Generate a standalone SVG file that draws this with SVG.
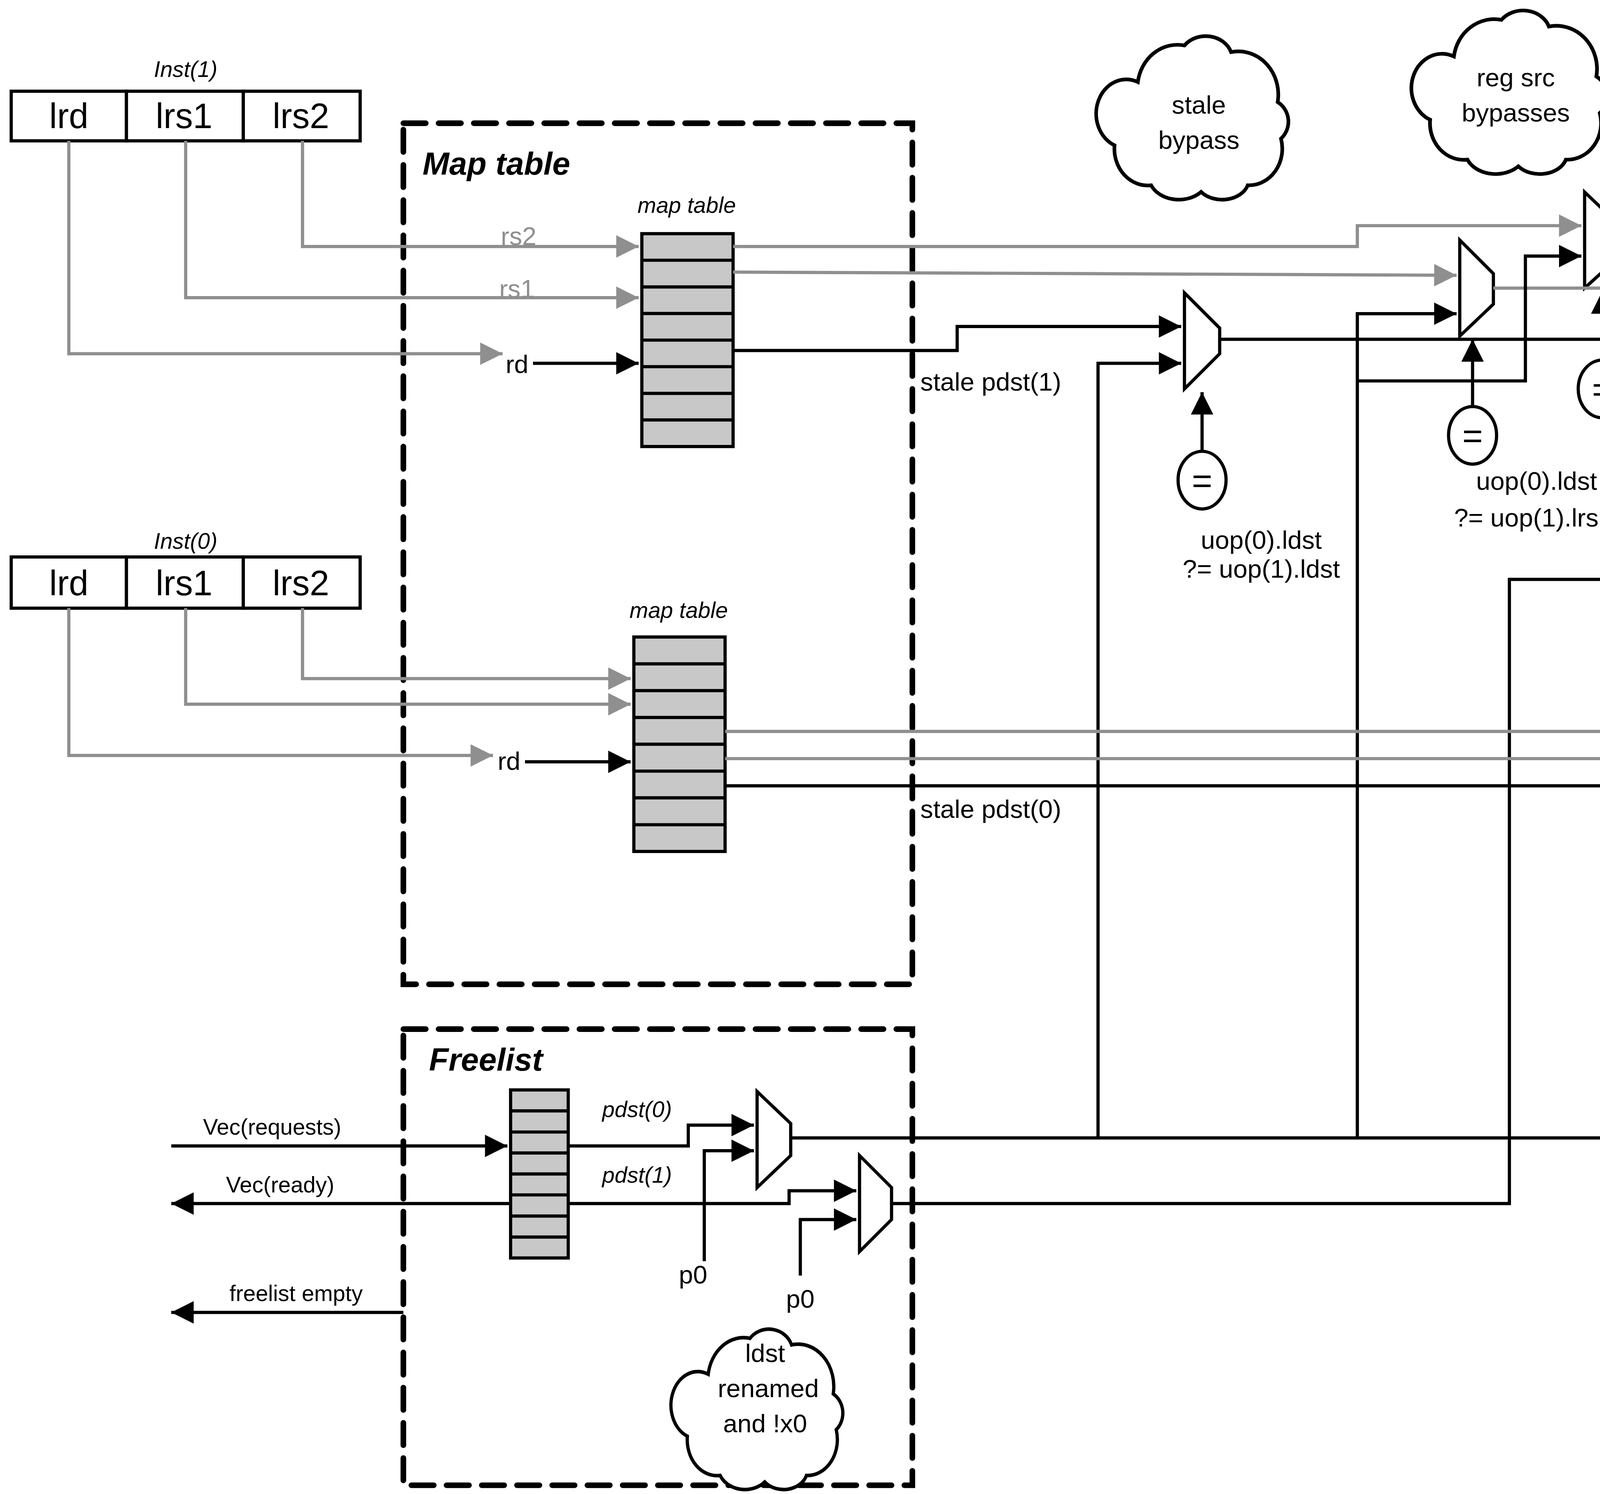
<svg xmlns="http://www.w3.org/2000/svg" width="6425" height="3825" viewBox="0 0 6425 3825">
<defs>
<marker id="ab" viewBox="0 0 10 10" refX="10" refY="5" markerWidth="20" markerHeight="14" markerUnits="userSpaceOnUse" orient="auto"><path d="M0,0L10,5L0,10Z" fill="#000"/></marker>
<marker id="ag" viewBox="0 0 10 10" refX="10" refY="5" markerWidth="20" markerHeight="14" markerUnits="userSpaceOnUse" orient="auto"><path d="M0,0L10,5L0,10Z" fill="#8f8f8f"/></marker>
<path id="cloud" d="M22,32 A24,26 0 0 1 50,10 A16,14 0 0 1 78,14 A24,26 0 0 1 106,44 A14,14 0 0 1 108,66 A20,22 0 0 1 88,94 A16,12 0 0 1 60,98 A18,14 0 0 1 30,94 A20,22 0 0 1 8,70 A14,16 0 0 1 22,32 Z"/>
</defs>
<style>
text{font-family:"Liberation Sans",Arial,sans-serif;fill:#000}
.cell{fill:#fff;stroke:#000;stroke-width:2}
.tbl{fill:#c8c8c8;stroke:#000;stroke-width:2}
.row{stroke:#000;stroke-width:2}
.big{font-size:22px}
.mid{font-size:16px}
.sm{font-size:14px;font-style:italic}
.ttl{font-size:20px;font-style:italic;font-weight:bold}
.k{fill:none;stroke:#000;stroke-width:2}
.g{fill:none;stroke:#8f8f8f;stroke-width:2}
.dash{fill:none;stroke:#000;stroke-width:3.5;stroke-dasharray:14,8;stroke-linecap:round}
.mux{fill:#fff;stroke:#000;stroke-width:2}
.cl{fill:#fff;stroke:#000;stroke-width:2.2}
</style>
<rect width="6425" height="3825" fill="#fff"/>
<g transform="scale(4.0976)">
<g id="maptable-box"><rect class="dash" x="252" y="77" width="318" height="538"/><text class="ttl" x="264" y="109">Map table</text></g>
<g id="freelist-box"><rect class="dash" x="252" y="643" width="318" height="285"/><text class="ttl" x="268" y="669">Freelist</text></g>

<g id="inst1"><text class="sm" x="116" y="48" text-anchor="middle">Inst(1)</text>
<rect class="cell" x="7" y="57" width="72" height="31"/><rect class="cell" x="79" y="57" width="73" height="31"/><rect class="cell" x="152" y="57" width="73" height="31"/>
<text class="big" x="43" y="80" text-anchor="middle">lrd</text><text class="big" x="115" y="80" text-anchor="middle">lrs1</text><text class="big" x="188" y="80" text-anchor="middle">lrs2</text></g>
<g id="inst0"><text class="sm" x="116" y="343" text-anchor="middle">Inst(0)</text>
<rect class="cell" x="7" y="348" width="72" height="32"/><rect class="cell" x="79" y="348" width="73" height="32"/><rect class="cell" x="152" y="348" width="73" height="32"/>
<text class="big" x="43" y="372" text-anchor="middle">lrd</text><text class="big" x="115" y="372" text-anchor="middle">lrs1</text><text class="big" x="188" y="372" text-anchor="middle">lrs2</text></g>

<g id="maptable1"><text class="sm" x="429" y="133" text-anchor="middle">map table</text>
<rect class="tbl" x="401" y="146" width="57" height="133"/>
<path class="row" d="M401,162.6H458M401,179.3H458M401,195.9H458M401,212.5H458M401,229.1H458M401,245.8H458M401,262.4H458"/></g>
<g id="maptable0"><text class="sm" x="424" y="386" text-anchor="middle">map table</text>
<rect class="tbl" x="396" y="398" width="57" height="134"/>
<path class="row" d="M396,414.8H453M396,431.5H453M396,448.3H453M396,465H453M396,481.8H453M396,498.5H453M396,515.3H453"/></g>
<g id="busytable"><text class="sm" x="1520" y="187" text-anchor="middle" style="font-size:18px">busy table</text>
<rect class="tbl" x="1492" y="208" width="57" height="138"/>
<path class="row" d="M1492,225.3H1549M1492,242.5H1549M1492,259.8H1549M1492,277H1549M1492,294.3H1549M1492,311.5H1549M1492,328.8H1549"/></g>
<g id="freelist"><rect class="tbl" x="319" y="681" width="36" height="105"/>
<path class="row" d="M319,694.1H355M319,707.3H355M319,720.4H355M319,733.5H355M319,746.6H355M319,759.8H355M319,772.9H355"/></g>

<g id="uop1"><rect class="cell" x="1100" y="70" width="73" height="32"/><rect class="cell" x="1173" y="70" width="73" height="32"/><rect class="cell" x="1246" y="70" width="73" height="32"/><rect class="cell" x="1319" y="70" width="73" height="32"/>
<text class="big" x="1137" y="94" text-anchor="middle">pdst</text><text class="big" x="1210" y="94" text-anchor="middle">prs1</text><text class="big" x="1283" y="94" text-anchor="middle">prs2</text><text class="big" x="1356" y="94" text-anchor="middle">stale</text></g>
<g id="uop0"><rect class="cell" x="1100" y="386" width="73" height="32"/><rect class="cell" x="1173" y="386" width="73" height="32"/><rect class="cell" x="1246" y="386" width="73" height="32"/><rect class="cell" x="1319" y="386" width="73" height="32"/>
<text class="big" x="1137" y="410" text-anchor="middle">pdst</text><text class="big" x="1210" y="410" text-anchor="middle">prs1</text><text class="big" x="1283" y="410" text-anchor="middle">prs2</text><text class="big" x="1356" y="410" text-anchor="middle">stale</text></g>

<g id="muxes">
<path class="mux" d="M740,183L762,205V221L740,243Z"/>
<path class="mux" d="M912,150L933,171V190L912,210Z"/>
<path class="mux" d="M990,120L1012,141V160L990,180Z"/>
<path class="mux" d="M473,682L494,702V722L473,742Z"/>
<path class="mux" d="M537,722L557,742V762L537,782Z"/>
</g>
<g id="eq"><ellipse class="mux" cx="751" cy="300" rx="15" ry="18"/><text class="big" x="751" y="308" text-anchor="middle">=</text>
<ellipse class="mux" cx="920" cy="272" rx="15" ry="18"/><text class="big" x="920" y="280" text-anchor="middle">=</text>
<ellipse class="mux" cx="1001" cy="243" rx="15" ry="18"/><text class="big" x="1001" y="251" text-anchor="middle">=</text></g>
<g id="clouds">
<use href="#cloud" class="cl" transform="translate(688,18) scale(1.04,1.04)"/>
<text class="mid" x="749" y="71" text-anchor="middle">stale</text><text class="mid" x="749" y="93" text-anchor="middle">bypass</text>
<use href="#cloud" class="cl" transform="translate(885,2) scale(1.06,1.04)"/>
<text class="mid" x="947" y="54" text-anchor="middle">reg src</text><text class="mid" x="947" y="76" text-anchor="middle">bypasses</text>
<use href="#cloud" class="cl" transform="translate(422,826) scale(0.93,1.02)"/>
<text class="mid" x="478" y="851" text-anchor="middle">ldst</text><text class="mid" x="480" y="873" text-anchor="middle">renamed</text><text class="mid" x="478" y="895" text-anchor="middle">and !x0</text>
</g>

<g id="connectors">
<path class="g" d="M189,88V154H399" marker-end="url(#ag)"/>
<path class="g" d="M116,88V186H399" marker-end="url(#ag)"/>
<path class="g" d="M43,88V221H314" marker-end="url(#ag)"/>
<path class="k" d="M333,227H399" marker-end="url(#ab)"/>
<path class="g" d="M189,380V424H394" marker-end="url(#ag)"/>
<path class="g" d="M116,380V440H394" marker-end="url(#ag)"/>
<path class="g" d="M43,380V472H308" marker-end="url(#ag)"/>
<path class="k" d="M328,476H394" marker-end="url(#ab)"/>
<path class="g" d="M458,154H848V141H988" marker-end="url(#ag)"/>
<path class="g" d="M458,170L910,172" marker-end="url(#ag)"/>
<path class="k" d="M458,219H598V204H738" marker-end="url(#ab)"/>
<path class="k" d="M762,212H1356V104" marker-end="url(#ab)"/>
<path class="k" d="M751,282V245" marker-end="url(#ab)"/>
<path class="k" d="M920,254V212" marker-end="url(#ab)"/>
<path class="k" d="M1001,225V182" marker-end="url(#ab)"/>
<path class="g" d="M933,180H1210V104" marker-end="url(#ag)"/>
<path class="g" d="M1012,150H1283V104" marker-end="url(#ag)"/>
<path class="k" d="M848,711V196H910" marker-end="url(#ab)"/>
<path class="k" d="M848,238H953V160H988" marker-end="url(#ab)"/>
<path class="k" d="M686,711V227H738" marker-end="url(#ab)"/>
<path class="k" d="M494,711H1137V420" marker-end="url(#ab)"/>
<path class="k" d="M557,752H943V362H1137V104" marker-end="url(#ab)"/>
<path class="g" d="M453,457H1210V420" marker-end="url(#ag)"/>
<path class="g" d="M453,474H1283V420" marker-end="url(#ag)"/>
<path class="k" d="M453,491H1356V420" marker-end="url(#ab)"/>
<path class="g" d="M1210,70V24H1436V228H1490" marker-end="url(#ag)"/>
<path class="g" d="M1283,70V46H1411V248H1490" marker-end="url(#ag)"/>
<path class="g" d="M1210,386V285H1490" marker-end="url(#ag)"/>
<path class="g" d="M1283,386V302H1490" marker-end="url(#ag)"/>
<path class="k" d="M107,716H317" marker-end="url(#ab)"/>
<path class="k" d="M319,752H107" marker-end="url(#ab)"/>
<path class="k" d="M252,820H107" marker-end="url(#ab)"/>
<path class="k" d="M355,716H430V703H471" marker-end="url(#ab)"/>
<path class="k" d="M440,788V719H471" marker-end="url(#ab)"/>
<path class="k" d="M355,752H493V744H535" marker-end="url(#ab)"/>
<path class="k" d="M500,797V762H535" marker-end="url(#ab)"/>
</g>
<g id="labels">
<text class="mid" x="324" y="153" text-anchor="middle" style="fill:#8f8f8f">rs2</text>
<text class="mid" x="323" y="186" text-anchor="middle" style="fill:#8f8f8f">rs1</text>
<text class="mid" x="323" y="233" text-anchor="middle">rd</text>
<text class="mid" x="318" y="481" text-anchor="middle">rd</text>
<text class="mid" x="575" y="244">stale pdst(1)</text>
<text class="mid" x="575" y="511">stale pdst(0)</text>
<text class="mid" x="788" y="343" text-anchor="middle">uop(0).ldst</text><text class="mid" x="788" y="361" text-anchor="middle">?= uop(1).ldst</text>
<text class="mid" x="960" y="306" text-anchor="middle">uop(0).ldst</text><text class="mid" x="958" y="329" text-anchor="middle">?= uop(1).lrs1</text>
<text class="mid" x="1068" y="261" text-anchor="middle">uop(0).ldst</text><text class="mid" x="1068" y="284" text-anchor="middle">?= uop(1).lrs2</text>
<text x="170" y="709" text-anchor="middle" style="font-size:14px">Vec(requests)</text>
<text x="175" y="745" text-anchor="middle" style="font-size:14px">Vec(ready)</text>
<text x="185" y="813" text-anchor="middle" style="font-size:14px">freelist empty</text>
<text class="sm" x="398" y="698" text-anchor="middle">pdst(0)</text>
<text class="sm" x="398" y="739" text-anchor="middle">pdst(1)</text>
<text class="mid" x="433" y="802" text-anchor="middle">p0</text>
<text class="mid" x="500" y="817" text-anchor="middle">p0</text>
</g>
</g>
</svg>
